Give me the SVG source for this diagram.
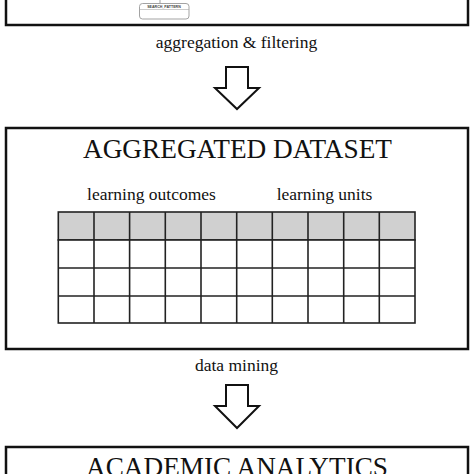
<svg xmlns="http://www.w3.org/2000/svg" width="474" height="474" viewBox="0 0 474 474">
<style>
  .frame{fill:#fff;stroke:#111;stroke-width:2.5}
  .lbl{font-family:"Liberation Serif","DejaVu Serif",serif;fill:#111;text-anchor:middle}
  .title{font-size:27px}
  .small{font-size:17.5px}
  .cell{fill:#fff;stroke:#222;stroke-width:1.6}
  .head{fill:#d0d0d0;stroke:#222;stroke-width:1.6}
  .arrow{fill:#fff;stroke:#111;stroke-width:2;stroke-linejoin:miter}
</style>
<rect width="474" height="474" fill="#fff"/>

<g id="source-box">
  <rect class="frame" x="6" y="-10" width="462" height="35"/>
  <line x1="160" y1="0" x2="160" y2="4" stroke="#888" stroke-width="0.8"/>
  <rect x="139.5" y="3.5" width="49.5" height="15.5" rx="3" fill="#fff" stroke="#999" stroke-width="0.9"/>
  <line x1="139.5" y1="9.5" x2="189" y2="9.5" stroke="#aaa" stroke-width="0.6"/>
  <text x="164" y="8.2" font-family="Liberation Sans, Arial, sans-serif" font-size="3.6" font-weight="bold" fill="#444" text-anchor="middle">SEARCH_PATTERN</text>
</g>

<g id="connectors">
  <text class="lbl small" x="236.5" y="48">aggregation &amp; filtering</text>
  <polygon class="arrow" points="226,67 248,67 248,88 259,88 237,109 215,88 226,88"/>
  <text class="lbl small" x="236.5" y="371">data mining</text>
  <polygon class="arrow" points="226,385 248,385 248,406 259,406 237,428 215,406 226,406"/>
</g>

<g id="aggregated-dataset">
  <rect class="frame" x="6" y="128" width="462" height="221"/>
  <text class="lbl title" x="237.5" y="158" textLength="309" lengthAdjust="spacingAndGlyphs">AGGREGATED DATASET</text>
  <text class="lbl small" x="151.5" y="200">learning outcomes</text>
  <text class="lbl small" x="324.5" y="200">learning units</text>
  <g id="table">
    <rect class="head" x="58.3" y="212" width="356.7" height="28"/>
    <rect class="cell" x="58.3" y="240" width="356.7" height="83"/>
    <g stroke="#222" stroke-width="1.6">
      <line x1="58.3" y1="268" x2="415" y2="268"/>
      <line x1="58.3" y1="296" x2="415" y2="296"/>
      <line x1="94" y1="212" x2="94" y2="323"/>
      <line x1="129.6" y1="212" x2="129.6" y2="323"/>
      <line x1="165.3" y1="212" x2="165.3" y2="323"/>
      <line x1="201" y1="212" x2="201" y2="323"/>
      <line x1="236.7" y1="212" x2="236.7" y2="323"/>
      <line x1="272.3" y1="212" x2="272.3" y2="323"/>
      <line x1="308" y1="212" x2="308" y2="323"/>
      <line x1="343.7" y1="212" x2="343.7" y2="323"/>
      <line x1="379.3" y1="212" x2="379.3" y2="323"/>
    </g>
  </g>
</g>

<g id="academic-analytics">
  <rect class="frame" x="6" y="447" width="462" height="40"/>
  <text class="lbl title" x="237" y="476" textLength="302" lengthAdjust="spacingAndGlyphs">ACADEMIC ANALYTICS</text>
</g>
</svg>
